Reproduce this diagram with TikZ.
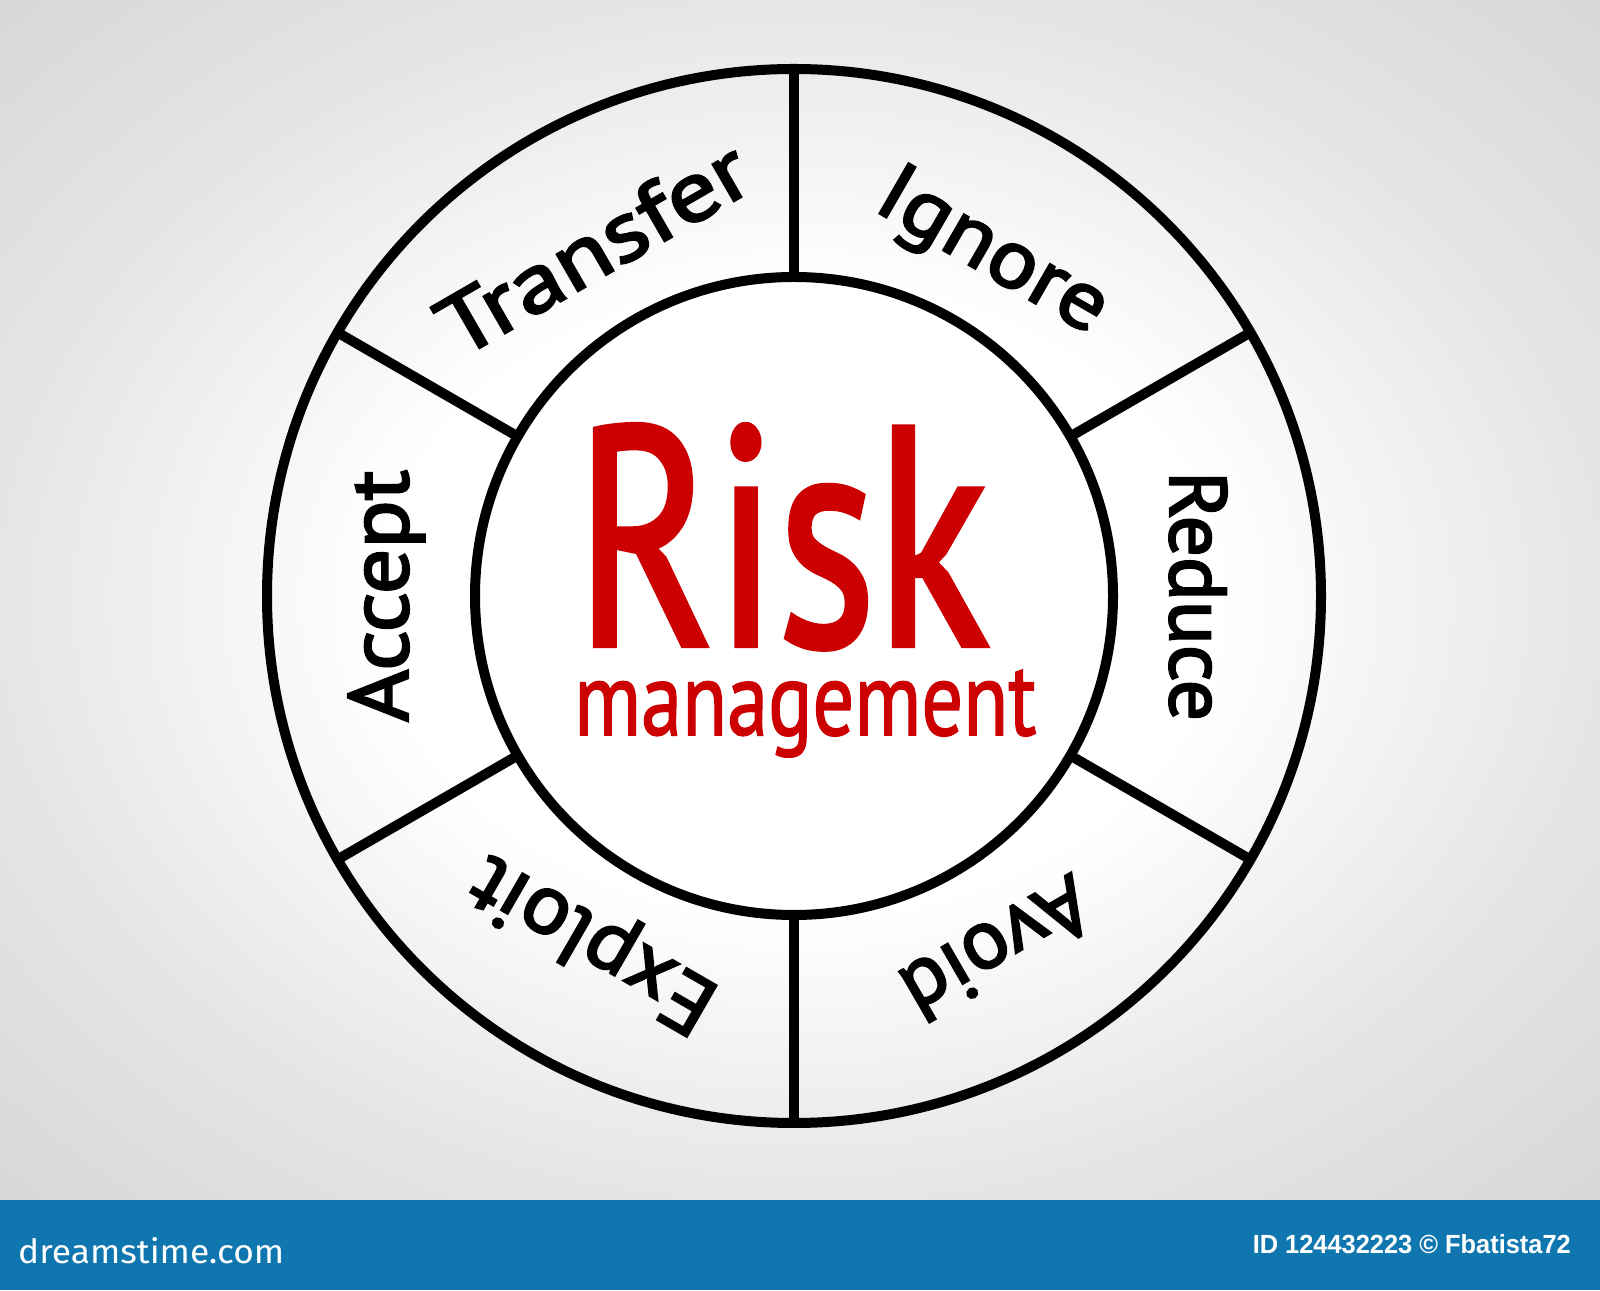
\documentclass[tikz,border=0pt]{standalone}
\usepackage{fontspec}
\usepackage{graphicx}
\usetikzlibrary{calc}
\setmainfont{PT Sans}
\newfontfamily\lblfont[FakeBold=2.6]{PT Sans}
\newfontfamily\riskfont[FakeBold=2.0]{PT Sans}
\newfontfamily\mgmtfont[FakeBold=1.6]{PT Sans}
\newfontfamily\idfont{Liberation Sans}
\newfontfamily\logofont{Fira Sans}
\definecolor{bgedge}{gray}{0.90}
\definecolor{bgcorner}{gray}{0.84}
\definecolor{riskred}{RGB}{204,0,0}
\definecolor{barblue}{RGB}{16,118,176}
\pgfdeclareradialshading{bgshade}{\pgfpoint{0bp}{0bp}}{color(0bp)=(white);color(13bp)=(white);color(25bp)=(bgedge);color(36bp)=(bgcorner);color(50bp)=(bgcorner)}
\begin{document}
\begin{tikzpicture}[x=1pt,y=1pt,
  ring/.style={circle, draw=black, line width=10pt, inner sep=0pt, outer sep=0pt},
  divider/.style={line width=10pt, draw=black},
  lbl/.style={inner sep=0pt, anchor=base, font=\lblfont},
  redtext/.style={inner sep=0pt, anchor=base west, text=riskred}]
\useasboundingbox (0,0) rectangle (1600,1290);
\shade[shading=bgshade] (0,90) rectangle (1600,1290);
\fill[barblue] (0,0) rectangle (1600,90);
\coordinate (C) at (794,694);
\node[ring, minimum size=1054pt] (outer) at (C) {};
\node[ring, minimum size=638pt] (inner) at (C) {};
\foreach \a in {90,30,-30,-90,-150,150}
  \draw[divider] (inner.\a) -- (outer.\a);
\node[lbl, rotate=30] (transfer) at ($(C)+(120:372)$) {\resizebox{344pt}{60pt}{Transfer\vphantom{d}}};
\node[lbl, rotate=-30] (ignore) at ($(C)+(60:374)$) {\resizebox{253pt}{58pt}{Ignore\vphantom{d}}};
\node[lbl, rotate=-90] (reduce) at ($(C)+(0:376)$) {\resizebox{250pt}{57pt}{Reduce\vphantom{d}}};
\node[lbl, rotate=-150] (avoid) at ($(C)+(-60:378)$) {\resizebox{205pt}{60pt}{Avoid\vphantom{d}}};
\node[lbl, rotate=-210] (exploit) at ($(C)+(-120:376)$) {\resizebox{270pt}{60pt}{Exploit\vphantom{d}}};
\node[lbl, rotate=90] (accept) at ($(C)+(180:386)$) {\resizebox{252pt}{60pt}{Accept\vphantom{d}}};
\node[redtext] (risk) at (575,645) {\resizebox{413pt}{220pt}{\riskfont Risk}};
\node[redtext] (mgmt) at (574,555) {\resizebox{462pt}{65pt}{\mgmtfont management}};
\node[inner sep=0pt, anchor=base west, text=white] (logo) at (18,27) {\resizebox{266pt}{26pt}{\logofont dreamstime.com}};
\node[inner sep=0pt, anchor=base east, text=white] (id) at (1571,37) {\resizebox{318pt}{19pt}{\idfont\bfseries ID 124432223 © Fbatista72}};
\end{tikzpicture}
\end{document}
